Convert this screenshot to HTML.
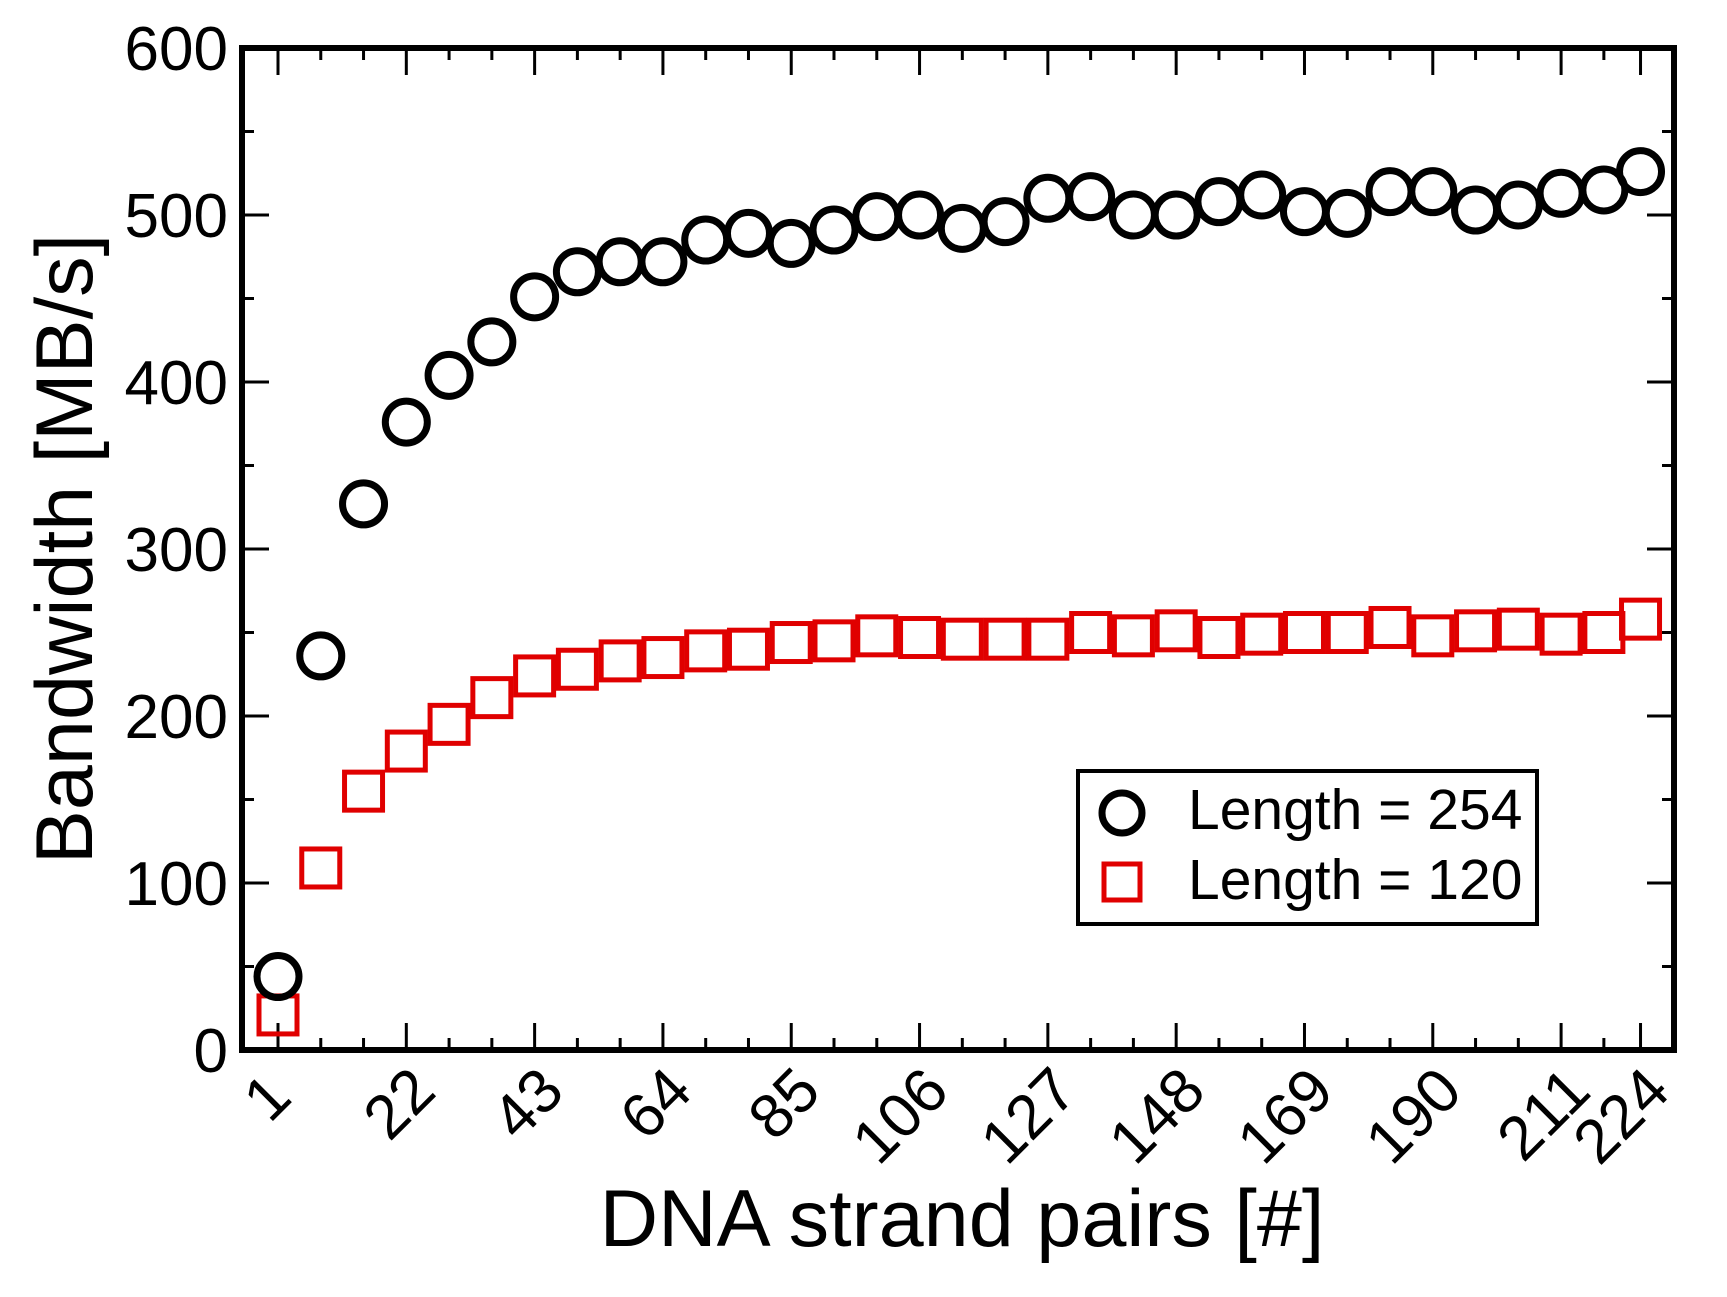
<!DOCTYPE html>
<html><head><meta charset="utf-8"><style>
html,body{margin:0;padding:0;background:#fff}
svg text{font-family:"Liberation Sans",sans-serif;fill:#000}
</style></head><body>
<svg width="1727" height="1292" viewBox="0 0 1727 1292" xmlns="http://www.w3.org/2000/svg">
<g id="ticks" stroke="#000" stroke-width="3"></g>
<rect x="242" y="48" width="1432" height="1002" fill="none" stroke="#000" stroke-width="6"/>
<g id="labels" font-size="62"></g>
<g id="pts"></g>
<text x="962" y="1246" font-size="81" text-anchor="middle">DNA strand pairs [#]</text>
<text transform="translate(92,549) rotate(-90)" font-size="81" text-anchor="middle">Bandwidth [MB/s]</text>
<rect x="1078" y="771" width="459" height="153" fill="#fff" stroke="#000" stroke-width="4"/>
<circle cx="1122" cy="813" r="20" fill="none" stroke="#000" stroke-width="7"/>
<rect x="1104" y="864" width="36" height="36" fill="none" stroke="#e00000" stroke-width="5"/>
<text x="1188" y="829" font-size="57">Length = 254</text>
<text x="1188" y="899" font-size="57">Length = 120</text>
</svg>
<script>
const NS="http://www.w3.org/2000/svg";
function el(t,a,p,txt){const e=document.createElementNS(NS,t);for(const k in a)e.setAttribute(k,a[k]);if(txt!==undefined)e.textContent=txt;p.appendChild(e);return e;}
const X=v=>278+(v-1)*6.11, Y=v=>1050-v*1.67;
const tk=document.getElementById('ticks'),lb=document.getElementById('labels'),pts=document.getElementById('pts');
for(let v=1;v<=224;v+=7){const x=X(v);const major=((v-1)%21===0);const L=major?27:12;
 el('line',{x1:x,y1:1050,x2:x,y2:1050-L},tk);el('line',{x1:x,y1:48,x2:x,y2:48+L},tk);}
{const x=X(224);el('line',{x1:x,y1:1050,x2:x,y2:1023},tk);el('line',{x1:x,y1:48,x2:x,y2:75},tk);}
[1,22,43,64,85,106,127,148,169,190,211,224].forEach(v=>{const x=X(v)+(v==1?16:32),y=1094+(v==1?6:0);
 el('text',{x:x,y:y,'text-anchor':'end',transform:`rotate(-45 ${x} ${y})`},lb,String(v));});
for(let v=0;v<=600;v+=50){const y=Y(v),L=(v%100===0)?27:12;
 el('line',{x1:242,y1:y,x2:242+L,y2:y},tk);el('line',{x1:1674,y1:y,x2:1674-L,y2:y},tk);
 if(v%100===0)el('text',{x:228,y:y+22,'text-anchor':'end'},lb,String(v));}
const c=[44,236,327,376,404,424,451,466,472,472,485,489,483,491,499,500,492,496,510,511,500,500,508,512,502,501,514,514,503,506,513,515,526];
const s=[21,109,155,179,195,211,224,228,233,235,239,240,244,245,248,247,246,246,246,250,248,251,247,249,250,250,253,248,251,252,249,250,258];
const xs=[];for(let v=1;v<=218;v+=7)xs.push(v);xs.push(224);
xs.forEach((v,i)=>{el('rect',{x:X(v)-19,y:Y(s[i])-19,width:38,height:38,fill:'none',stroke:'#e00000','stroke-width':5},pts);});
xs.forEach((v,i)=>{el('circle',{cx:X(v),cy:Y(c[i]),r:21,fill:'none',stroke:'#000','stroke-width':7},pts);});
</script>
</body></html>
